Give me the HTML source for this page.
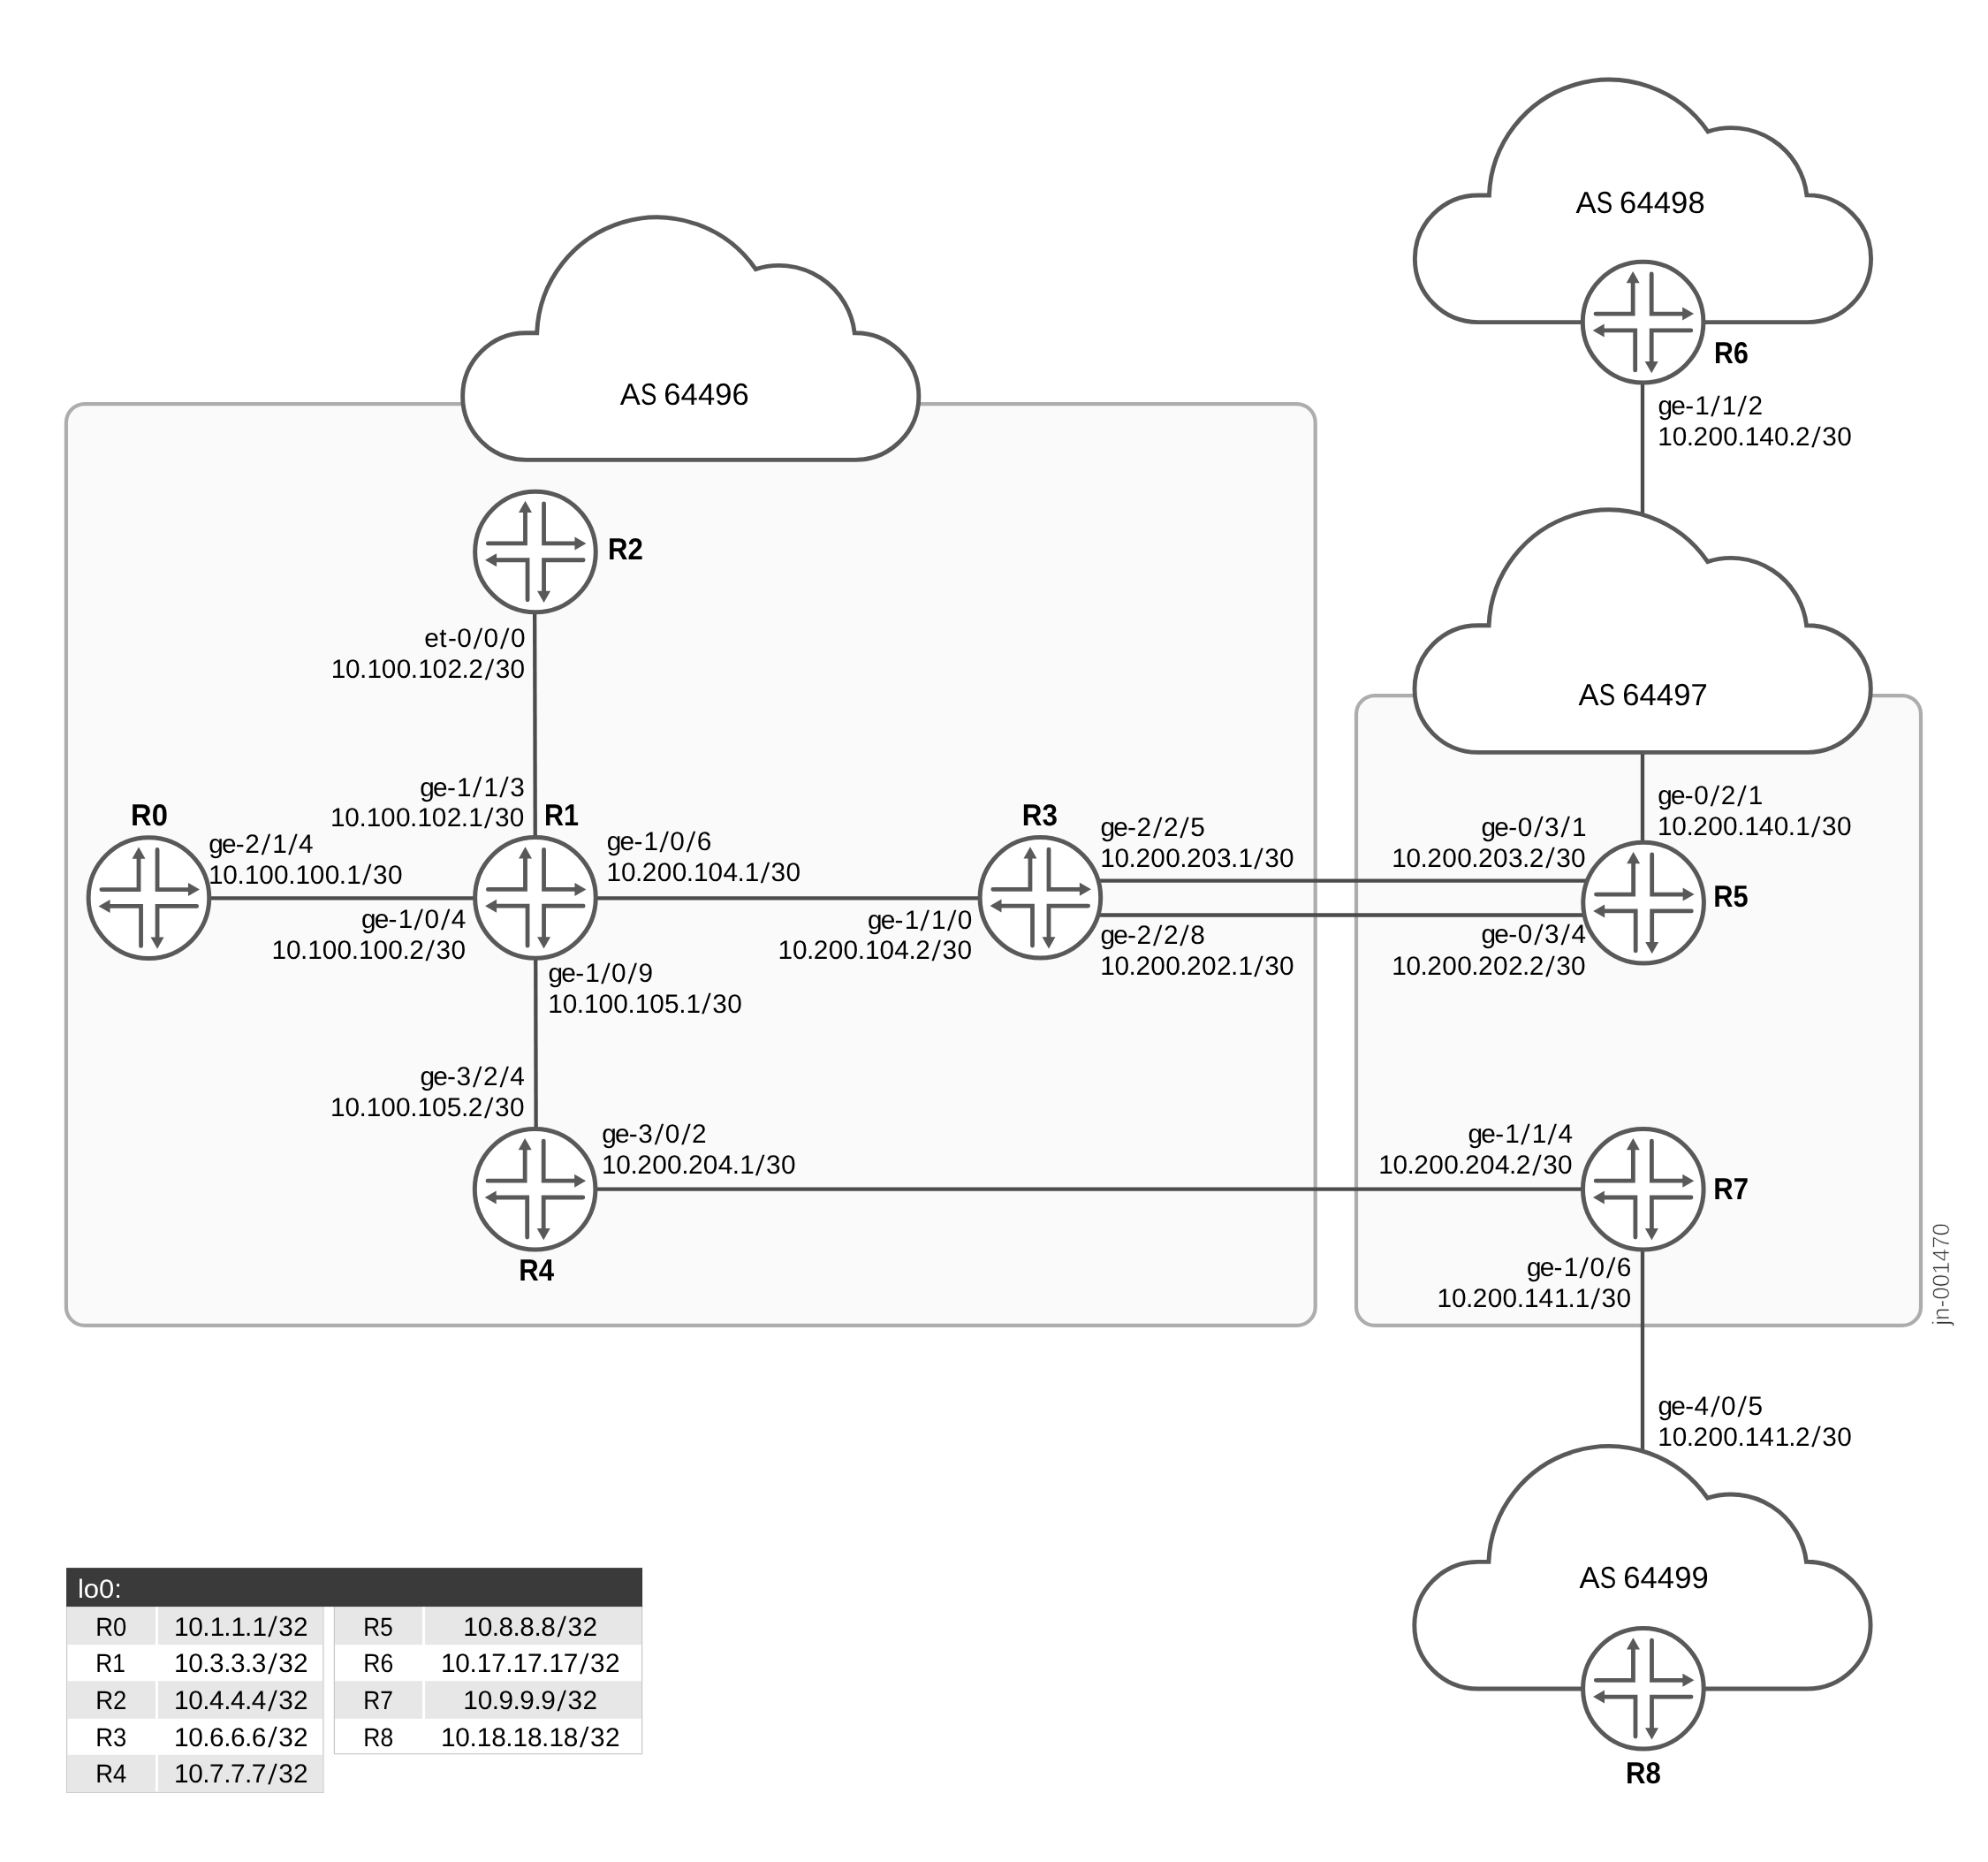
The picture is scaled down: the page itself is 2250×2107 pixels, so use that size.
<!DOCTYPE html>
<html><head><meta charset="utf-8"><title>Network topology</title>
<style>html,body{margin:0;padding:0;background:#fff}svg{display:block;filter:grayscale(1)}</style></head>
<body>
<svg width="2250" height="2107" viewBox="0 0 2250 2107" font-family="Liberation Sans, sans-serif" style="font-kerning:none" text-rendering="geometricPrecision">
<rect width="2250" height="2107" fill="#fff"/>
<rect x="74.9" y="457.1" width="1413.80" height="1042.80" rx="21" ry="21" fill="#fafafa" stroke="#adadad" stroke-width="4.2"/>
<rect x="1535.0" y="787.2" width="639.00" height="712.70" rx="21" ry="21" fill="#fafafa" stroke="#adadad" stroke-width="4.2"/>
<line x1="168" y1="1016.4" x2="1177" y2="1016.4" stroke="#4c4c4e" stroke-width="4.3"/>
<line x1="605.0" y1="624" x2="605.8" y2="960" stroke="#4c4c4e" stroke-width="4.3"/>
<line x1="606.2" y1="1070" x2="606.7" y2="1300" stroke="#4c4c4e" stroke-width="4.3"/>
<line x1="1177" y1="996.6" x2="1859" y2="996.6" stroke="#4c4c4e" stroke-width="4.3"/>
<line x1="1177" y1="1035.5" x2="1859" y2="1035.5" stroke="#4c4c4e" stroke-width="4.3"/>
<line x1="606" y1="1345.65" x2="1859" y2="1345.65" stroke="#4c4c4e" stroke-width="4.3"/>
<line x1="1859.0" y1="364" x2="1859.0" y2="1021" stroke="#4c4c4e" stroke-width="4.3"/>
<line x1="1859.0" y1="1345" x2="1859.0" y2="1911" stroke="#4c4c4e" stroke-width="4.3"/>
<path transform="translate(0.40 0.80)" d="M1672.7 363.8 A71.8 71.8 0 0 1 1672.7 220.2 L1685 220.2 A135.9 135.9 0 0 1 1932.6 148 A86 86 0 0 1 2044.5 220.1 L2045.35 220.1 A71.85 71.85 0 0 1 2045.35 363.8 Z" fill="#fff" stroke="#58595b" stroke-width="4.9" stroke-linejoin="miter"/>
<path transform="translate(-1077.30 156.60)" d="M1672.7 363.8 A71.8 71.8 0 0 1 1672.7 220.2 L1685 220.2 A135.9 135.9 0 0 1 1932.6 148 A86 86 0 0 1 2044.5 220.1 L2045.35 220.1 A71.85 71.85 0 0 1 2045.35 363.8 Z" fill="#fff" stroke="#58595b" stroke-width="4.9" stroke-linejoin="miter"/>
<path transform="translate(0.10 487.60)" d="M1672.7 363.8 A71.8 71.8 0 0 1 1672.7 220.2 L1685 220.2 A135.9 135.9 0 0 1 1932.6 148 A86 86 0 0 1 2044.5 220.1 L2045.35 220.1 A71.85 71.85 0 0 1 2045.35 363.8 Z" fill="#fff" stroke="#58595b" stroke-width="4.9" stroke-linejoin="miter"/>
<path transform="translate(-0.10 1547.20)" d="M1672.7 363.8 A71.8 71.8 0 0 1 1672.7 220.2 L1685 220.2 A135.9 135.9 0 0 1 1932.6 148 A86 86 0 0 1 2044.5 220.1 L2045.35 220.1 A71.85 71.85 0 0 1 2045.35 363.8 Z" fill="#fff" stroke="#58595b" stroke-width="4.9" stroke-linejoin="miter"/>
<g transform="translate(168.45 1016.1)"><g>
<circle r="68.3" fill="#fff" stroke="#58595b" stroke-width="5"/>
<g fill="none" stroke="#58595b" stroke-width="4.8" stroke-linecap="round" stroke-linejoin="miter">
<path d="M-53.6 -9.5H-11.45V-45"/>
<path d="M9.6 -54.6V-9.5H45"/>
<path d="M-44 9.3H-8.9V54.3"/>
<path d="M54.2 9.3H9.6V45"/>
</g>
<g fill="#58595b" stroke="none">
<path d="M-11.45 -57.6l7.5 13.2h-15z"/>
<path d="M57.5 -9.5l-13 7.5v-15z"/>
<path d="M-56.9 9.3l13 -7.5v15z"/>
<path d="M9.6 57.6l-7.5 -13.2h15z"/>
</g>
</g></g>
<g transform="translate(605.95 1015.9)"><g>
<circle r="68.3" fill="#fff" stroke="#58595b" stroke-width="5"/>
<g fill="none" stroke="#58595b" stroke-width="4.8" stroke-linecap="round" stroke-linejoin="miter">
<path d="M-53.6 -9.5H-11.45V-45"/>
<path d="M9.6 -54.6V-9.5H45"/>
<path d="M-44 9.3H-8.9V54.3"/>
<path d="M54.2 9.3H9.6V45"/>
</g>
<g fill="#58595b" stroke="none">
<path d="M-11.45 -57.6l7.5 13.2h-15z"/>
<path d="M57.5 -9.5l-13 7.5v-15z"/>
<path d="M-56.9 9.3l13 -7.5v15z"/>
<path d="M9.6 57.6l-7.5 -13.2h15z"/>
</g>
</g></g>
<g transform="translate(605.95 624.45)"><g>
<circle r="68.3" fill="#fff" stroke="#58595b" stroke-width="5"/>
<g fill="none" stroke="#58595b" stroke-width="4.8" stroke-linecap="round" stroke-linejoin="miter">
<path d="M-53.6 -9.5H-11.45V-45"/>
<path d="M9.6 -54.6V-9.5H45"/>
<path d="M-44 9.3H-8.9V54.3"/>
<path d="M54.2 9.3H9.6V45"/>
</g>
<g fill="#58595b" stroke="none">
<path d="M-11.45 -57.6l7.5 13.2h-15z"/>
<path d="M57.5 -9.5l-13 7.5v-15z"/>
<path d="M-56.9 9.3l13 -7.5v15z"/>
<path d="M9.6 57.6l-7.5 -13.2h15z"/>
</g>
</g></g>
<g transform="translate(1177.4 1015.8)"><g>
<circle r="68.3" fill="#fff" stroke="#58595b" stroke-width="5"/>
<g fill="none" stroke="#58595b" stroke-width="4.8" stroke-linecap="round" stroke-linejoin="miter">
<path d="M-53.6 -9.5H-11.45V-45"/>
<path d="M9.6 -54.6V-9.5H45"/>
<path d="M-44 9.3H-8.9V54.3"/>
<path d="M54.2 9.3H9.6V45"/>
</g>
<g fill="#58595b" stroke="none">
<path d="M-11.45 -57.6l7.5 13.2h-15z"/>
<path d="M57.5 -9.5l-13 7.5v-15z"/>
<path d="M-56.9 9.3l13 -7.5v15z"/>
<path d="M9.6 57.6l-7.5 -13.2h15z"/>
</g>
</g></g>
<g transform="translate(605.6 1345.7)"><g>
<circle r="68.3" fill="#fff" stroke="#58595b" stroke-width="5"/>
<g fill="none" stroke="#58595b" stroke-width="4.8" stroke-linecap="round" stroke-linejoin="miter">
<path d="M-53.6 -9.5H-11.45V-45"/>
<path d="M9.6 -54.6V-9.5H45"/>
<path d="M-44 9.3H-8.9V54.3"/>
<path d="M54.2 9.3H9.6V45"/>
</g>
<g fill="#58595b" stroke="none">
<path d="M-11.45 -57.6l7.5 13.2h-15z"/>
<path d="M57.5 -9.5l-13 7.5v-15z"/>
<path d="M-56.9 9.3l13 -7.5v15z"/>
<path d="M9.6 57.6l-7.5 -13.2h15z"/>
</g>
</g></g>
<g transform="translate(1860.1 1021.6)"><g>
<circle r="68.3" fill="#fff" stroke="#58595b" stroke-width="5"/>
<g fill="none" stroke="#58595b" stroke-width="4.8" stroke-linecap="round" stroke-linejoin="miter">
<path d="M-53.6 -9.5H-11.45V-45"/>
<path d="M9.6 -54.6V-9.5H45"/>
<path d="M-44 9.3H-8.9V54.3"/>
<path d="M54.2 9.3H9.6V45"/>
</g>
<g fill="#58595b" stroke="none">
<path d="M-11.45 -57.6l7.5 13.2h-15z"/>
<path d="M57.5 -9.5l-13 7.5v-15z"/>
<path d="M-56.9 9.3l13 -7.5v15z"/>
<path d="M9.6 57.6l-7.5 -13.2h15z"/>
</g>
</g></g>
<g transform="translate(1859.6 364.6)"><g>
<circle r="68.3" fill="#fff" stroke="#58595b" stroke-width="5"/>
<g fill="none" stroke="#58595b" stroke-width="4.8" stroke-linecap="round" stroke-linejoin="miter">
<path d="M-53.6 -9.5H-11.45V-45"/>
<path d="M9.6 -54.6V-9.5H45"/>
<path d="M-44 9.3H-8.9V54.3"/>
<path d="M54.2 9.3H9.6V45"/>
</g>
<g fill="#58595b" stroke="none">
<path d="M-11.45 -57.6l7.5 13.2h-15z"/>
<path d="M57.5 -9.5l-13 7.5v-15z"/>
<path d="M-56.9 9.3l13 -7.5v15z"/>
<path d="M9.6 57.6l-7.5 -13.2h15z"/>
</g>
</g></g>
<g transform="translate(1859.8 1345.7)"><g>
<circle r="68.3" fill="#fff" stroke="#58595b" stroke-width="5"/>
<g fill="none" stroke="#58595b" stroke-width="4.8" stroke-linecap="round" stroke-linejoin="miter">
<path d="M-53.6 -9.5H-11.45V-45"/>
<path d="M9.6 -54.6V-9.5H45"/>
<path d="M-44 9.3H-8.9V54.3"/>
<path d="M54.2 9.3H9.6V45"/>
</g>
<g fill="#58595b" stroke="none">
<path d="M-11.45 -57.6l7.5 13.2h-15z"/>
<path d="M57.5 -9.5l-13 7.5v-15z"/>
<path d="M-56.9 9.3l13 -7.5v15z"/>
<path d="M9.6 57.6l-7.5 -13.2h15z"/>
</g>
</g></g>
<g transform="translate(1859.9 1910.8)"><g>
<circle r="68.3" fill="#fff" stroke="#58595b" stroke-width="5"/>
<g fill="none" stroke="#58595b" stroke-width="4.8" stroke-linecap="round" stroke-linejoin="miter">
<path d="M-53.6 -9.5H-11.45V-45"/>
<path d="M9.6 -54.6V-9.5H45"/>
<path d="M-44 9.3H-8.9V54.3"/>
<path d="M54.2 9.3H9.6V45"/>
</g>
<g fill="#58595b" stroke="none">
<path d="M-11.45 -57.6l7.5 13.2h-15z"/>
<path d="M57.5 -9.5l-13 7.5v-15z"/>
<path d="M-56.9 9.3l13 -7.5v15z"/>
<path d="M9.6 57.6l-7.5 -13.2h15z"/>
</g>
</g></g>
<text transform="translate(539.80 733.50) skewX(-5.3) scale(1 1.08)" x="-4.14" font-size="29.8">/</text>
<text transform="translate(570.10 733.50) skewX(-5.3) scale(1 1.08)" x="-4.14" font-size="29.8">/</text>
<text x="480.19 497.29 506.89 517.16 547.61 577.96" y="731.60" font-size="29.8">et-000</text>
<text transform="translate(552.80 768.70) skewX(-5.3) scale(1 1.08)" x="-4.14" font-size="29.8">/</text>
<text x="374.67 391.00 407.08 415.46 431.79 448.72 464.80 473.18 489.51 506.44 522.52 530.30 560.63 577.56" y="766.80" font-size="29.8">10.100.102.230</text>
<text transform="translate(539.10 902.40) skewX(-5.3) scale(1 1.08)" x="-4.14" font-size="29.8">/</text>
<text transform="translate(569.40 902.40) skewX(-5.3) scale(1 1.08)" x="-4.14" font-size="29.8">/</text>
<text x="475.35 490.09 505.99 517.06 547.51 577.26" y="900.50" font-size="29.8">ge-113</text>
<text transform="translate(552.10 936.60) skewX(-5.3) scale(1 1.08)" x="-4.14" font-size="29.8">/</text>
<text x="373.97 390.30 406.38 414.76 431.09 448.02 464.10 472.48 488.81 505.74 521.82 530.20 559.93 576.86" y="934.70" font-size="29.8">10.100.102.130</text>
<text transform="translate(299.95 967.10) skewX(-5.3) scale(1 1.08)" x="-4.14" font-size="29.8">/</text>
<text transform="translate(330.25 967.10) skewX(-5.3) scale(1 1.08)" x="-4.14" font-size="29.8">/</text>
<text x="236.20 250.94 266.84 277.31 308.36 338.11" y="965.20" font-size="29.8">ge-214</text>
<text transform="translate(414.15 1001.40) skewX(-5.3) scale(1 1.08)" x="-4.14" font-size="29.8">/</text>
<text x="236.01 252.34 268.42 276.80 293.13 310.06 326.14 334.52 350.85 367.78 383.86 392.24 421.97 438.90" y="999.50" font-size="29.8">10.100.100.130</text>
<text transform="translate(472.70 1051.90) skewX(-5.3) scale(1 1.08)" x="-4.14" font-size="29.8">/</text>
<text transform="translate(503.00 1051.90) skewX(-5.3) scale(1 1.08)" x="-4.14" font-size="29.8">/</text>
<text x="408.95 423.69 439.59 450.66 480.51 510.86" y="1050.00" font-size="29.8">ge-104</text>
<text transform="translate(485.70 1086.50) skewX(-5.3) scale(1 1.08)" x="-4.14" font-size="29.8">/</text>
<text x="307.57 323.90 339.98 348.36 364.69 381.62 397.70 406.08 422.41 439.34 455.42 463.20 493.53 510.46" y="1084.60" font-size="29.8">10.100.100.230</text>
<text transform="translate(750.55 964.30) skewX(-5.3) scale(1 1.08)" x="-4.14" font-size="29.8">/</text>
<text transform="translate(780.85 964.30) skewX(-5.3) scale(1 1.08)" x="-4.14" font-size="29.8">/</text>
<text x="686.80 701.54 717.44 728.51 758.36 788.71" y="962.40" font-size="29.8">ge-106</text>
<text transform="translate(864.75 998.80) skewX(-5.3) scale(1 1.08)" x="-4.14" font-size="29.8">/</text>
<text x="686.61 702.94 719.02 726.80 743.73 760.66 776.74 785.12 801.45 818.38 834.46 842.84 872.57 889.50" y="996.90" font-size="29.8">10.200.104.130</text>
<text transform="translate(1045.70 1052.60) skewX(-5.3) scale(1 1.08)" x="-4.14" font-size="29.8">/</text>
<text transform="translate(1076.00 1052.60) skewX(-5.3) scale(1 1.08)" x="-4.14" font-size="29.8">/</text>
<text x="981.95 996.69 1012.59 1023.66 1054.11 1083.86" y="1050.70" font-size="29.8">ge-110</text>
<text transform="translate(1058.70 1086.60) skewX(-5.3) scale(1 1.08)" x="-4.14" font-size="29.8">/</text>
<text x="880.57 896.90 912.98 920.76 937.69 954.62 970.70 979.08 995.41 1012.34 1028.42 1036.20 1066.53 1083.46" y="1084.70" font-size="29.8">10.200.104.230</text>
<text transform="translate(684.25 1112.90) skewX(-5.3) scale(1 1.08)" x="-4.14" font-size="29.8">/</text>
<text transform="translate(714.55 1112.90) skewX(-5.3) scale(1 1.08)" x="-4.14" font-size="29.8">/</text>
<text x="620.50 635.24 651.14 662.21 692.06 722.41" y="1111.00" font-size="29.8">ge-109</text>
<text transform="translate(798.44 1147.40) skewX(-5.3) scale(1 1.08)" x="-4.14" font-size="29.8">/</text>
<text x="620.31 636.64 652.72 661.10 677.43 694.36 710.44 718.82 735.15 752.08 768.16 776.54 806.27 823.20" y="1145.50" font-size="29.8">10.100.105.130</text>
<text transform="translate(539.20 1230.30) skewX(-5.3) scale(1 1.08)" x="-4.14" font-size="29.8">/</text>
<text transform="translate(569.50 1230.30) skewX(-5.3) scale(1 1.08)" x="-4.14" font-size="29.8">/</text>
<text x="475.45 490.19 506.09 516.56 547.01 577.36" y="1228.40" font-size="29.8">ge-324</text>
<text transform="translate(552.20 1264.80) skewX(-5.3) scale(1 1.08)" x="-4.14" font-size="29.8">/</text>
<text x="374.07 390.40 406.48 414.86 431.19 448.12 464.20 472.58 488.91 505.84 521.92 529.70 560.03 576.96" y="1262.90" font-size="29.8">10.100.105.230</text>
<text transform="translate(744.95 1294.60) skewX(-5.3) scale(1 1.08)" x="-4.14" font-size="29.8">/</text>
<text transform="translate(775.25 1294.60) skewX(-5.3) scale(1 1.08)" x="-4.14" font-size="29.8">/</text>
<text x="681.20 695.94 711.84 722.31 752.76 783.11" y="1292.70" font-size="29.8">ge-302</text>
<text transform="translate(859.14 1329.90) skewX(-5.3) scale(1 1.08)" x="-4.14" font-size="29.8">/</text>
<text x="681.01 697.34 713.42 721.20 738.13 755.06 771.14 778.92 795.85 812.78 828.86 837.24 866.97 883.90" y="1328.00" font-size="29.8">10.200.204.130</text>
<text transform="translate(1309.15 947.80) skewX(-5.3) scale(1 1.08)" x="-4.14" font-size="29.8">/</text>
<text transform="translate(1339.45 947.80) skewX(-5.3) scale(1 1.08)" x="-4.14" font-size="29.8">/</text>
<text x="1245.40 1260.14 1276.04 1286.51 1316.96 1347.31" y="945.90" font-size="29.8">ge-225</text>
<text transform="translate(1423.35 982.90) skewX(-5.3) scale(1 1.08)" x="-4.14" font-size="29.8">/</text>
<text x="1245.21 1261.54 1277.62 1285.40 1302.33 1319.26 1335.34 1343.12 1360.05 1376.98 1393.06 1401.44 1431.17 1448.10" y="981.00" font-size="29.8">10.200.203.130</text>
<text transform="translate(1309.15 1069.80) skewX(-5.3) scale(1 1.08)" x="-4.14" font-size="29.8">/</text>
<text transform="translate(1339.45 1069.80) skewX(-5.3) scale(1 1.08)" x="-4.14" font-size="29.8">/</text>
<text x="1245.40 1260.14 1276.04 1286.51 1316.96 1347.31" y="1067.90" font-size="29.8">ge-228</text>
<text transform="translate(1423.35 1104.90) skewX(-5.3) scale(1 1.08)" x="-4.14" font-size="29.8">/</text>
<text x="1245.21 1261.54 1277.62 1285.40 1302.33 1319.26 1335.34 1343.12 1360.05 1376.98 1393.06 1401.44 1431.17 1448.10" y="1103.00" font-size="29.8">10.200.202.130</text>
<text transform="translate(1740.30 947.40) skewX(-5.3) scale(1 1.08)" x="-4.14" font-size="29.8">/</text>
<text transform="translate(1770.60 947.40) skewX(-5.3) scale(1 1.08)" x="-4.14" font-size="29.8">/</text>
<text x="1676.55 1691.29 1707.19 1717.66 1748.11 1779.06" y="945.50" font-size="29.8">ge-031</text>
<text transform="translate(1753.30 982.40) skewX(-5.3) scale(1 1.08)" x="-4.14" font-size="29.8">/</text>
<text x="1575.17 1591.50 1607.58 1615.36 1632.29 1649.22 1665.30 1673.08 1690.01 1706.94 1723.02 1730.80 1761.13 1778.06" y="980.50" font-size="29.8">10.200.203.230</text>
<text transform="translate(1740.30 1069.30) skewX(-5.3) scale(1 1.08)" x="-4.14" font-size="29.8">/</text>
<text transform="translate(1770.60 1069.30) skewX(-5.3) scale(1 1.08)" x="-4.14" font-size="29.8">/</text>
<text x="1676.55 1691.29 1707.19 1717.66 1748.11 1778.46" y="1067.40" font-size="29.8">ge-034</text>
<text transform="translate(1753.30 1104.90) skewX(-5.3) scale(1 1.08)" x="-4.14" font-size="29.8">/</text>
<text x="1575.17 1591.50 1607.58 1615.36 1632.29 1649.22 1665.30 1673.08 1690.01 1706.94 1723.02 1730.80 1761.13 1778.06" y="1103.00" font-size="29.8">10.200.202.230</text>
<text transform="translate(1939.95 911.60) skewX(-5.3) scale(1 1.08)" x="-4.14" font-size="29.8">/</text>
<text transform="translate(1970.25 911.60) skewX(-5.3) scale(1 1.08)" x="-4.14" font-size="29.8">/</text>
<text x="1876.20 1890.94 1906.84 1917.31 1947.76 1978.71" y="909.70" font-size="29.8">ge-021</text>
<text transform="translate(2054.14 946.60) skewX(-5.3) scale(1 1.08)" x="-4.14" font-size="29.8">/</text>
<text x="1876.01 1892.34 1908.42 1916.20 1933.13 1950.06 1966.14 1974.52 1990.85 2007.78 2023.86 2032.24 2061.97 2078.90" y="944.70" font-size="29.8">10.200.140.130</text>
<text transform="translate(1725.30 1295.10) skewX(-5.3) scale(1 1.08)" x="-4.14" font-size="29.8">/</text>
<text transform="translate(1755.60 1295.10) skewX(-5.3) scale(1 1.08)" x="-4.14" font-size="29.8">/</text>
<text x="1661.55 1676.29 1692.19 1703.26 1733.71 1763.46" y="1293.20" font-size="29.8">ge-114</text>
<text transform="translate(1738.30 1330.10) skewX(-5.3) scale(1 1.08)" x="-4.14" font-size="29.8">/</text>
<text x="1560.17 1576.50 1592.58 1600.36 1617.29 1634.22 1650.30 1658.08 1675.01 1691.94 1708.02 1715.80 1746.13 1763.06" y="1328.20" font-size="29.8">10.200.204.230</text>
<text transform="translate(1791.70 1445.90) skewX(-5.3) scale(1 1.08)" x="-4.14" font-size="29.8">/</text>
<text transform="translate(1822.00 1445.90) skewX(-5.3) scale(1 1.08)" x="-4.14" font-size="29.8">/</text>
<text x="1727.95 1742.69 1758.59 1769.66 1799.51 1829.86" y="1444.00" font-size="29.8">ge-106</text>
<text transform="translate(1804.70 1480.90) skewX(-5.3) scale(1 1.08)" x="-4.14" font-size="29.8">/</text>
<text x="1626.57 1642.90 1658.98 1666.76 1683.69 1700.62 1716.70 1725.08 1741.41 1758.94 1774.42 1782.80 1812.53 1829.46" y="1479.00" font-size="29.8">10.200.141.130</text>
<text transform="translate(1940.25 470.50) skewX(-5.3) scale(1 1.08)" x="-4.14" font-size="29.8">/</text>
<text transform="translate(1970.55 470.50) skewX(-5.3) scale(1 1.08)" x="-4.14" font-size="29.8">/</text>
<text x="1876.50 1891.24 1907.14 1918.21 1948.66 1978.41" y="468.60" font-size="29.8">ge-112</text>
<text transform="translate(2054.45 505.50) skewX(-5.3) scale(1 1.08)" x="-4.14" font-size="29.8">/</text>
<text x="1876.31 1892.64 1908.72 1916.50 1933.43 1950.36 1966.44 1974.82 1991.15 2008.08 2024.16 2031.94 2062.27 2079.20" y="503.60" font-size="29.8">10.200.140.230</text>
<text transform="translate(1940.25 1602.70) skewX(-5.3) scale(1 1.08)" x="-4.14" font-size="29.8">/</text>
<text transform="translate(1970.55 1602.70) skewX(-5.3) scale(1 1.08)" x="-4.14" font-size="29.8">/</text>
<text x="1876.50 1891.24 1907.14 1917.61 1948.06 1978.41" y="1600.80" font-size="29.8">ge-405</text>
<text transform="translate(2054.45 1637.40) skewX(-5.3) scale(1 1.08)" x="-4.14" font-size="29.8">/</text>
<text x="1876.31 1892.64 1908.72 1916.50 1933.43 1950.36 1966.44 1974.82 1991.15 2008.68 2024.16 2031.94 2062.27 2079.20" y="1635.50" font-size="29.8">10.200.141.230</text>
<text transform="translate(148.01 934.10) scale(0.9513 1)" font-size="34.4" font-weight="700" fill="#000">R0</text>
<text transform="translate(615.95 933.70) scale(0.8891 1)" font-size="34.4" font-weight="700" fill="#000">R1</text>
<text transform="translate(687.91 633.20) scale(0.9083 1)" font-size="34.4" font-weight="700" fill="#000">R2</text>
<text transform="translate(1156.69 934.00) scale(0.9152 1)" font-size="34.4" font-weight="700" fill="#000">R3</text>
<text transform="translate(587.31 1449.00) scale(0.9063 1)" font-size="34.4" font-weight="700" fill="#000">R4</text>
<text transform="translate(1939.13 1025.70) scale(0.8989 1)" font-size="34.4" font-weight="700" fill="#000">R5</text>
<text transform="translate(1940.07 410.90) scale(0.8830 1)" font-size="34.4" font-weight="700" fill="#000">R6</text>
<text transform="translate(1939.31 1356.50) scale(0.9063 1)" font-size="34.4" font-weight="700" fill="#000">R7</text>
<text transform="translate(1840.01 2018.40) scale(0.9085 1)" font-size="34.4" font-weight="700" fill="#000">R8</text>
<text transform="translate(1815.90 240.80) scale(0.8 1)" x="-11.53" font-size="34.6">S</text>
<text x="1783.43 1833.08 1852.41 1871.74 1891.07 1910.40" y="240.80" font-size="34.6">A64498</text>
<text transform="translate(734.10 457.80) scale(0.8 1)" x="-11.53" font-size="34.6">S</text>
<text x="701.63 751.28 770.61 789.94 809.27 828.60" y="457.80" font-size="34.6">A64496</text>
<text transform="translate(1819.00 797.80) scale(0.8 1)" x="-11.53" font-size="34.6">S</text>
<text x="1786.53 1836.18 1855.51 1874.84 1894.17 1913.50" y="797.80" font-size="34.6">A64497</text>
<text transform="translate(1820.00 1796.80) scale(0.8 1)" x="-11.53" font-size="34.6">S</text>
<text x="1787.53 1837.18 1856.51 1875.84 1895.17 1914.50" y="1796.80" font-size="34.6">A64499</text>
<g transform="translate(2206.0 1500.3) rotate(-90)">
<text transform="translate(0.63 0.00) scale(0.9659 1)" font-size="26.9" fill="#333" stroke="#fff" stroke-width="0.7" paint-order="fill stroke">jn-001470</text>
</g>
<rect x="75.6" y="1817" width="290.30" height="211.30" fill="#fff" stroke="#cacaca" stroke-width="1.3"/>
<rect x="76.19999999999999" y="1818.1" width="99.80" height="43.00" fill="#e7e7e7"/>
<rect x="178.9" y="1818.1" width="186.40" height="43.00" fill="#e7e7e7"/>
<text transform="translate(108.15 1850.50) scale(0.9317 1)" font-size="29.4" fill="#000">R0</text>
<text transform="translate(307.33 1852.40) skewX(-5.3) scale(1 1.08)" x="-4.14" font-size="29.8">/</text>
<text x="196.91 213.24 229.32 237.70 253.18 261.56 277.04 285.42 315.15 332.08" y="1850.50" font-size="29.8">10.1.1.132</text>
<text transform="translate(108.23 1892.17) scale(0.8982 1)" font-size="29.4" fill="#000">R1</text>
<text transform="translate(307.33 1894.07) skewX(-5.3) scale(1 1.08)" x="-4.14" font-size="29.8">/</text>
<text x="196.91 213.24 229.32 237.10 253.18 260.96 277.04 284.82 315.15 332.08" y="1892.17" font-size="29.8">10.3.3.332</text>
<rect x="76.19999999999999" y="1902.2" width="99.80" height="42.60" fill="#e7e7e7"/>
<rect x="178.9" y="1902.2" width="186.40" height="42.60" fill="#e7e7e7"/>
<text transform="translate(108.14 1933.84) scale(0.9379 1)" font-size="29.4" fill="#000">R2</text>
<text transform="translate(307.33 1935.74) skewX(-5.3) scale(1 1.08)" x="-4.14" font-size="29.8">/</text>
<text x="196.91 213.24 229.32 237.10 253.18 260.96 277.04 284.82 315.15 332.08" y="1933.84" font-size="29.8">10.4.4.432</text>
<text transform="translate(108.15 1975.51) scale(0.9327 1)" font-size="29.4" fill="#000">R3</text>
<text transform="translate(307.33 1977.41) skewX(-5.3) scale(1 1.08)" x="-4.14" font-size="29.8">/</text>
<text x="196.91 213.24 229.32 237.10 253.18 260.96 277.04 284.82 315.15 332.08" y="1975.51" font-size="29.8">10.6.6.632</text>
<rect x="76.19999999999999" y="1985.8" width="99.80" height="41.90" fill="#e7e7e7"/>
<rect x="178.9" y="1985.8" width="186.40" height="41.90" fill="#e7e7e7"/>
<text transform="translate(108.15 2017.18) scale(0.9327 1)" font-size="29.4" fill="#000">R4</text>
<text transform="translate(307.33 2019.08) skewX(-5.3) scale(1 1.08)" x="-4.14" font-size="29.8">/</text>
<text x="196.91 213.24 229.32 237.10 253.18 260.96 277.04 284.82 315.15 332.08" y="2017.18" font-size="29.8">10.7.7.732</text>
<rect x="378.4" y="1817" width="348.20" height="167.60" fill="#fff" stroke="#cacaca" stroke-width="1.3"/>
<rect x="379.0" y="1818.1" width="99.00" height="43.00" fill="#e7e7e7"/>
<rect x="481.1" y="1818.1" width="244.90" height="43.00" fill="#e7e7e7"/>
<text transform="translate(411.25 1850.50) scale(0.8899 1)" font-size="29.4" fill="#000">R5</text>
<text transform="translate(634.72 1852.40) skewX(-5.3) scale(1 1.08)" x="-4.14" font-size="29.8">/</text>
<text x="524.31 540.64 556.72 564.50 580.58 588.36 604.44 612.22 642.55 659.48" y="1850.50" font-size="29.8">10.8.8.832</text>
<text transform="translate(411.22 1892.17) scale(0.9032 1)" font-size="29.4" fill="#000">R6</text>
<text transform="translate(660.22 1894.07) skewX(-5.3) scale(1 1.08)" x="-4.14" font-size="29.8">/</text>
<text x="499.01 515.34 531.42 539.80 556.13 572.21 580.59 596.92 613.00 621.38 637.71 668.04 684.97" y="1892.17" font-size="29.8">10.17.17.1732</text>
<rect x="379.0" y="1902.2" width="99.00" height="42.60" fill="#e7e7e7"/>
<rect x="481.1" y="1902.2" width="244.90" height="42.60" fill="#e7e7e7"/>
<text transform="translate(411.24 1933.84) scale(0.8963 1)" font-size="29.4" fill="#000">R7</text>
<text transform="translate(634.72 1935.74) skewX(-5.3) scale(1 1.08)" x="-4.14" font-size="29.8">/</text>
<text x="524.31 540.64 556.72 564.50 580.58 588.36 604.44 612.22 642.55 659.48" y="1933.84" font-size="29.8">10.9.9.932</text>
<text transform="translate(411.22 1975.51) scale(0.9028 1)" font-size="29.4" fill="#000">R8</text>
<text transform="translate(660.22 1977.41) skewX(-5.3) scale(1 1.08)" x="-4.14" font-size="29.8">/</text>
<text x="499.01 515.34 531.42 539.80 556.13 572.21 580.59 596.92 613.00 621.38 637.71 668.04 684.97" y="1975.51" font-size="29.8">10.18.18.1832</text>
<rect x="75.05" y="1774.1" width="652.0" height="44.0" fill="#3a3a3a"/>
<text transform="translate(87.91 1808.00) scale(1.0482 1)" font-size="29.6" fill="#fff">lo0:</text>
</svg>
</body></html>
